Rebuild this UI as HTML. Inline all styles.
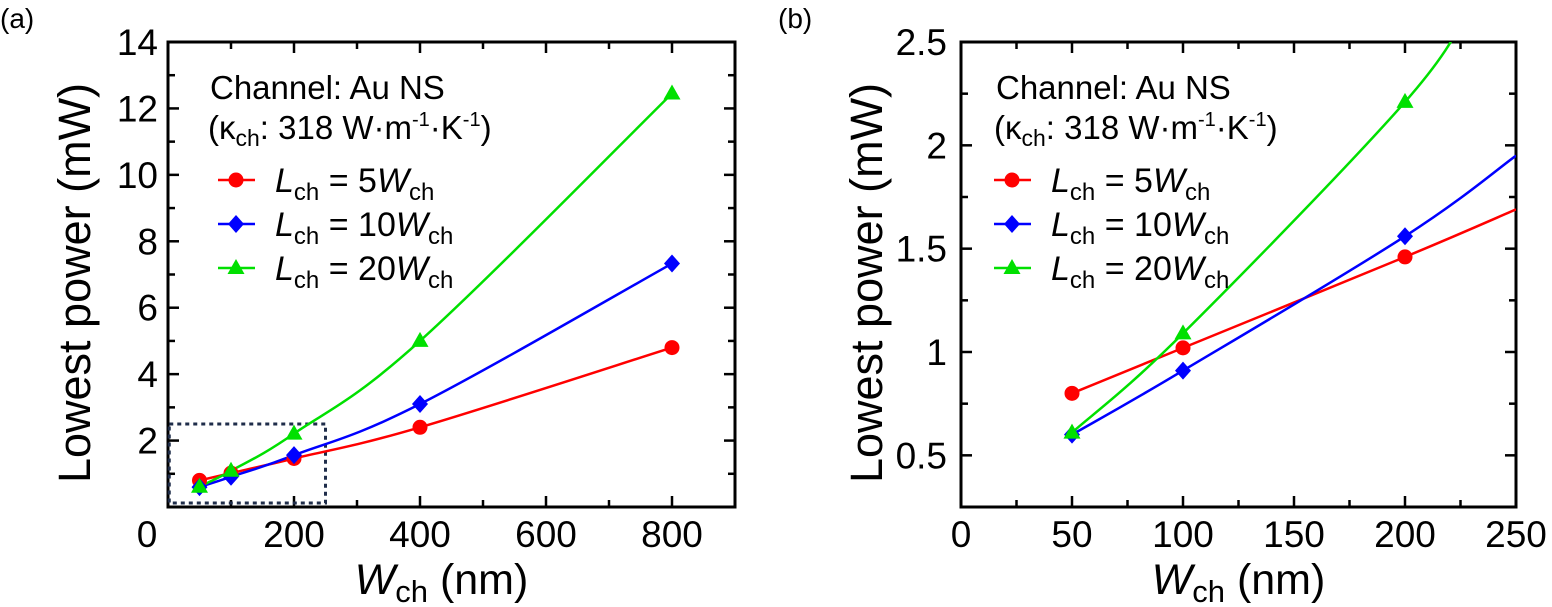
<!DOCTYPE html>
<html><head><meta charset="utf-8"><style>
body{margin:0;background:#fff;}
svg{display:block;font-family:"Liberation Sans",sans-serif;}
</style></head><body>
<svg id="s" width="1552" height="607" viewBox="0 0 1552 607" xmlns="http://www.w3.org/2000/svg">
<defs>
<clipPath id="ca"><rect x="168" y="42" width="567" height="465"/></clipPath>
<clipPath id="cb"><rect x="961" y="42" width="555" height="465"/></clipPath>
</defs>
<text x="0" y="28" font-size="28">(a)</text>
<text x="778" y="28" font-size="28">(b)</text>
</svg>
<script>
const s=document.getElementById('s');const NS='http://www.w3.org/2000/svg';
function el(t,a,txt){const e=document.createElementNS(NS,t);for(const k in a)e.setAttribute(k,a[k]);if(txt!==undefined)e.innerHTML=txt;s.appendChild(e);return e;}
function cr(pts){let d='M'+pts[0][0]+','+pts[0][1];for(let i=0;i<pts.length-1;i++){const p0=pts[i-1]||pts[i],p1=pts[i],p2=pts[i+1],p3=pts[i+2]||p2;const t=0.18;
const c1=[p1[0]+(p2[0]-p0[0])*t,p1[1]+(p2[1]-p0[1])*t],c2=[p2[0]-(p3[0]-p1[0])*t,p2[1]-(p3[1]-p1[1])*t];d+=' C'+c1+' '+c2+' '+p2;}return d;}
function marker(type,x,y,c){if(type==0)el('circle',{cx:x,cy:y,r:7.5,fill:c});else if(type==1)el('polygon',{points:`${x},${y-9} ${x+8},${y} ${x},${y+9} ${x-8},${y}`,fill:c});else el('polygon',{points:`${x},${y-9} ${x+8.5},${y+6} ${x-8.5},${y+6}`,fill:c});}
function plot(o){
 const X=v=>o.x0+(v-o.xmin)/(o.xmax-o.xmin)*(o.x1-o.x0), Y=v=>o.y1-(v-o.ymin)/(o.ymax-o.ymin)*(o.y1-o.y0);
 for(let v=o.xmin;v<=o.xmax+1e-9;v+=o.xminor){const maj=Math.abs(v/o.xmajor-Math.round(v/o.xmajor))<1e-6;const L=maj?11:7;const x=X(v);
  el('line',{x1:x,y1:o.y1,x2:x,y2:o.y1-L,stroke:'#000','stroke-width':2.5});el('line',{x1:x,y1:o.y0,x2:x,y2:o.y0+L,stroke:'#000','stroke-width':2.5});
  if(maj&&o.xlab(v))el('text',{x:x,y:547,'font-size':37,'text-anchor':'middle'},o.xlab(v));}
 for(let v=o.ymin;v<=o.ymax+1e-9;v+=o.yminor){const maj=Math.abs(v/o.ymajor-Math.round(v/o.ymajor))<1e-6;const L=maj?11:7;const y=Y(v);
  el('line',{x1:o.x0,y1:y,x2:o.x0+L,y2:y,stroke:'#000','stroke-width':2.5});el('line',{x1:o.x1,y1:y,x2:o.x1-L,y2:y,stroke:'#000','stroke-width':2.5});
  if(maj&&o.ylab(v))el('text',{x:o.lx,y:y+13,'font-size':37,'text-anchor':'end'},o.ylab(v));}
 el('rect',{x:o.x0,y:o.y0,width:o.x1-o.x0,height:o.y1-o.y0,fill:'none',stroke:'#000','stroke-width':3});
 if(o.box)el('rect',{x:X(o.box[0]),y:Y(o.box[3]),width:X(o.box[1])-X(o.box[0]),height:Y(o.box[2])-Y(o.box[3]),fill:'none',stroke:'#1f2d4a','stroke-width':3,'stroke-dasharray':'4 4'});
 const cols=['#ff0000','#0000ff','#00e000'];
 o.series.forEach((sr,i)=>{const pts=sr.line.map(p=>[X(p[0]),Y(p[1])]);el('path',{d:cr(pts),fill:'none',stroke:cols[i],'stroke-width':2.5,'clip-path':o.clip});});
 o.series.forEach((sr,i)=>{sr.pts.forEach(p=>marker(i,X(p[0]),Y(p[1]),cols[i]));});
 el('text',{x:o.tx,y:99,'font-size':33},'Channel: Au NS');
 el('text',{x:o.tx-2,y:139,'font-size':33},'(κ<tspan font-size="23" dy="7">ch</tspan><tspan dy="-7">: 318 W·m</tspan><tspan font-size="20" dy="-13">-1</tspan><tspan dy="13">·K</tspan><tspan font-size="20" dy="-13">-1</tspan><tspan dy="13">)</tspan>');
 const labs=['5','10','20'];
 [180,224,268].forEach((y,i)=>{el('line',{x1:o.mx,y1:y,x2:o.mx+37,y2:y,stroke:cols[i],'stroke-width':2.5});marker(i,o.mx+18,y,cols[i]);
  el('text',{x:o.mx+57,y:y+12,'font-size':34},`<tspan font-style="italic">L</tspan><tspan font-size="24" dy="8">ch</tspan><tspan dy="-8"> = ${labs[i]}</tspan><tspan font-style="italic">W</tspan><tspan font-size="24" dy="8">ch</tspan>`);});
 el('text',{x:(o.x0+o.x1)/2+o.tdx,y:594,'font-size':43,'text-anchor':'middle'},'<tspan font-style="italic">W</tspan><tspan font-size="31" dy="8">ch</tspan><tspan dy="-8"> (nm)</tspan>');
 el('text',{x:0,y:0,'font-size':45,'text-anchor':'middle',transform:`translate(${o.tyx},283) rotate(-90)`},'Lowest power (mW)');
}
const A=[[50,.80],[100,1.02],[200,1.46],[400,2.4],[800,4.8]],B=[[50,.60],[100,.91],[200,1.56],[400,3.1],[800,7.33]],C=[[50,.61],[100,1.09],[200,2.21],[400,5.0],[800,12.45]];
plot({x0:168,x1:735,y0:42,y1:507,xmin:0,xmax:900,ymin:0,ymax:14,xmajor:200,xminor:100,ymajor:2,yminor:1,lx:158,
 xlab:v=>v==0?'':String(v),ylab:v=>v==0?'':String(v),clip:'url(#ca)',box:[2,250,0.12,2.5],tx:210,mx:218,tyx:90,tdx:-10,
 series:[{line:A,pts:A},{line:B,pts:B},{line:C,pts:C}]});
el('text',{x:147,y:547,'font-size':37,'text-anchor':'middle'},'0');
plot({x0:961,x1:1516,y0:42,y1:507,xmin:0,xmax:250,ymin:0.25,ymax:2.5,xmajor:50,xminor:25,ymajor:0.5,yminor:0.25,lx:947,
 xlab:v=>String(v),ylab:v=>v<0.4?'':String(v),clip:'url(#cb)',tx:996,mx:994,tyx:882,tdx:0,
 series:[{line:[[50,.80],[100,1.02],[200,1.46],[250,1.69]],pts:[[50,.80],[100,1.02],[200,1.46]]},
 {line:[[50,.60],[100,.91],[200,1.56],[250,1.95]],pts:[[50,.60],[100,.91],[200,1.56]]},
 {line:[[50,.61],[100,1.09],[200,2.21],[230,2.68]],pts:[[50,.61],[100,1.09],[200,2.21]]}]});
</script>
</body></html>
